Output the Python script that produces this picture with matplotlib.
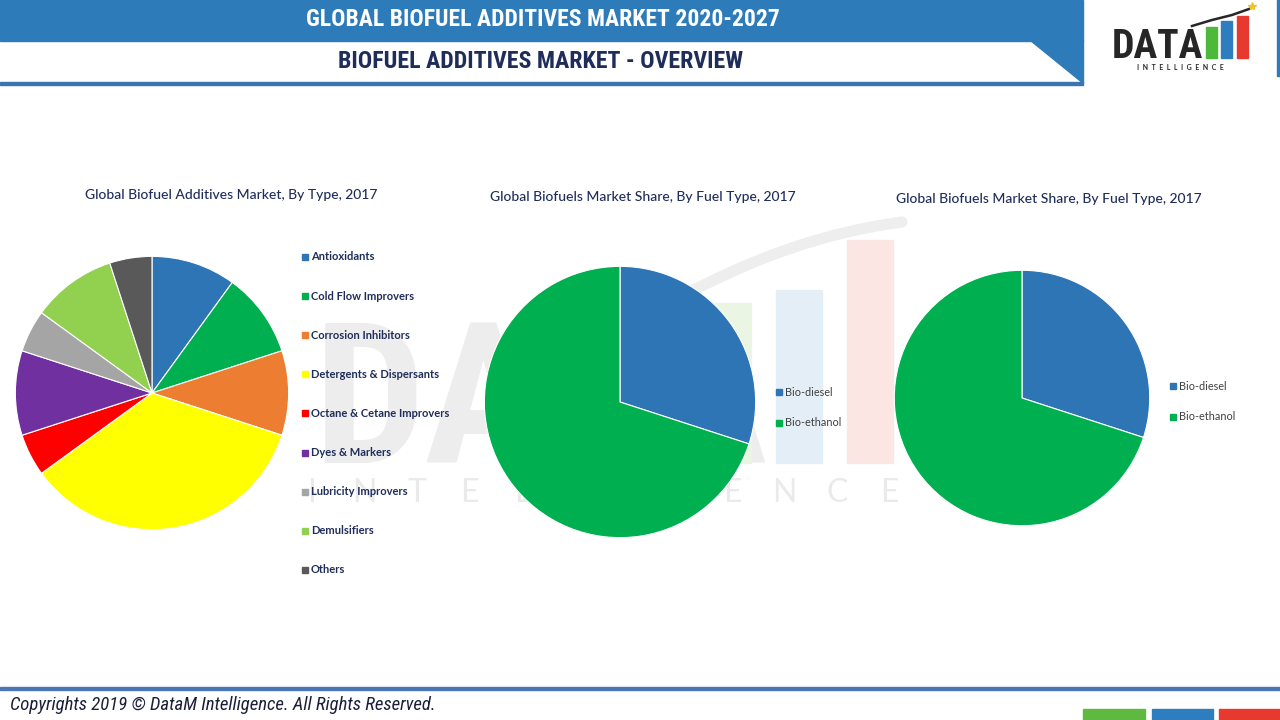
"""Biofuel additives market overview slide: three pie charts with header and footer."""

import matplotlib.pyplot as plt
from matplotlib.patches import PathPatch, Polygon, Rectangle
from matplotlib.path import Path

W, H = 1280, 720

# chart data
type_labels = [
    "Antioxidants",
    "Cold Flow Improvers",
    "Corrosion Inhibitors",
    "Detergents & Dispersants",
    "Octane & Cetane Improvers",
    "Dyes & Markers",
    "Lubricity Improvers",
    "Demulsifiers",
    "Others",
]
type_share = [10, 10, 10, 35, 5, 10, 5, 10, 5]
type_colors = ["#2E75B6", "#00B050", "#ED7D31", "#FFFF00", "#FF0000",
               "#7030A0", "#A5A5A5", "#92D050", "#595959"]

fuel_labels = ["Bio-diesel", "Bio-ethanol"]
fuel_share_a = [30, 70]
fuel_share_b = [30, 70]
fuel_colors = ["#2E75B6", "#00B050"]

main_title = "GLOBAL BIOFUEL ADDITIVES MARKET 2020-2027"
sub_title = "BIOFUEL ADDITIVES MARKET - OVERVIEW"
chart_titles = [
    "Global Biofuel Additives Market, By Type, 2017",
    "Global Biofuels Market Share, By Fuel Type, 2017",
    "Global Biofuels Market Share, By Fuel Type, 2017",
]
footer = "Copyrights 2019 \u00a9 DataM Intelligence. All Rights Reserved."

BLUE = "#2E7BBA"
NAVY = "#1F2D5A"
NARROW = ["Roboto Condensed", "DejaVu Sans"]
BODY = ["Lato", "DejaVu Sans"]

fig = plt.figure(figsize=(W / 100, H / 100), dpi=100)
bg = fig.add_axes([0, 0, 1, 1])
bg.set_xlim(0, W)
bg.set_ylim(H, 0)
bg.axis("off")

# --- watermark behind the charts
bg.text(314, 463, "DATA", fontsize=142, fontweight="bold", family=NARROW,
        color="#EDEDED", ha="left", va="baseline", zorder=0)
for x0, top, col in [(705, 303, "#EAF5E4"), (776, 290, "#E3EEF7"), (847, 240, "#FBE6E3")]:
    bg.add_patch(Rectangle((x0, top), 46, 463 - top, color=col, zorder=0))
arc = Path([(690, 292), (790, 240), (860, 228), (902, 222)],
           [Path.MOVETO, Path.CURVE4, Path.CURVE4, Path.CURVE4])
bg.add_patch(PathPatch(arc, fill=False, ec="#EEEEEE", lw=8, capstyle="round", zorder=0))
for i, ch in enumerate("INTELLIGENCE"):
    bg.text(312 + i * 52.5, 493, ch, fontsize=23, family=BODY, color="#EAEAEA",
            ha="center", va="center", zorder=0)

# --- header
bg.add_patch(Rectangle((0, 0), 1083, 41, color=BLUE, zorder=2))
bg.add_patch(Polygon([(1030, 40), (1083, 40), (1083, 83)], closed=True,
                     color=BLUE, zorder=2))
bg.add_patch(Rectangle((0, 82), 1083, 2.5, color="#3C74B0", zorder=2))
bg.text(543, 19, main_title, fontsize=17, fontweight="bold", family=NARROW,
        color="white", ha="center", va="center", zorder=3)
bg.text(541, 62, sub_title, fontsize=17.2, fontweight="bold", family=NARROW,
        color=NAVY, ha="center", va="center", zorder=3)

# logo
bg.add_patch(Rectangle((1277, 0), 3, 76, color=BLUE, zorder=2))
bg.text(1112, 58, "DATA", fontsize=28.5, fontweight="bold", family=NARROW,
        color="#262626", ha="left", va="baseline", zorder=3)
for x0, top, col in [(1206, 27, "#4CB93A"), (1221, 21, "#2E7DBF"), (1237, 16, "#E8392F")]:
    bg.add_patch(Rectangle((x0, top), 11, 58 - top, color=col, zorder=3))
bg.plot([1192, 1212, 1232, 1249], [26, 20, 15, 9], color="#262626", lw=1.8, zorder=3)
bg.plot([1252], [6], marker="*", color="#F2C12E", ms=6, zorder=3)
bg.text(1180, 68, "I  N  T  E  L  L  I  G  E  N  C  E", fontsize=5, fontweight="bold",
        family=BODY, color="#262626", ha="center", va="center", zorder=3)

# --- footer
bg.add_patch(Rectangle((0, 687), W, 3, color="#4A76B4", zorder=2))
bg.text(10, 705, footer, fontsize=13.5, style="italic", family=NARROW,
        color="#1A1F3A", ha="left", va="center", zorder=3)
for x0, x1, col in [(1083, 1145, "#5DB940"), (1152, 1213, "#2E7DBF"), (1219, 1280, "#E8392F")]:
    bg.add_patch(Rectangle((x0, 709), x1 - x0, 11, color=col, zorder=2))


def pie_axes(cx, cy, r):
    ax = fig.add_axes([(cx - r) / W, (H - cy - r) / H, 2 * r / W, 2 * r / H])
    ax.set_zorder(4)
    ax.patch.set_alpha(0)
    return ax


def draw_pie(ax, values, colors):
    wedges, _ = ax.pie(values, colors=colors, startangle=90, counterclock=False,
                       radius=1, wedgeprops=dict(linewidth=0.8, edgecolor="white"))
    ax.set_xlim(-1.01, 1.01)
    ax.set_ylim(-1.01, 1.01)
    return wedges


def draw_legend(labels, wedges, x, y0, step, size, bold, color):
    for i, (lab, w) in enumerate(zip(labels, wedges)):
        y = y0 + i * step
        bg.add_patch(Rectangle((x, y - 3), 6, 6, color=w.get_facecolor(), zorder=3))
        bg.text(x + 9, y, lab, fontsize=size, family=BODY,
                fontweight="bold" if bold else "normal", color=color,
                ha="left", va="center", zorder=3)


ax1 = pie_axes(152, 393, 138)
w1 = draw_pie(ax1, type_share, type_colors)
draw_legend(type_labels, w1, 302, 257, 39.1, 8, True, NAVY)

ax2 = pie_axes(620, 402, 137)
w2 = draw_pie(ax2, fuel_share_a, fuel_colors)
draw_legend(fuel_labels, w2, 776, 392, 31, 7.8, False, "#404040")

ax3 = pie_axes(1022, 398, 129)
w3 = draw_pie(ax3, fuel_share_b, fuel_colors)
draw_legend(fuel_labels, w3, 1170, 386, 31, 7.8, False, "#404040")

for (cx, cy), t in zip([(231, 195), (643, 197), (1049, 199)], chart_titles):
    bg.text(cx, cy, t, fontsize=10, family=BODY, fontweight="medium", color=NAVY,
            ha="center", va="center", zorder=3)

fig.savefig("out.png", dpi=100)
plt.close(fig)
